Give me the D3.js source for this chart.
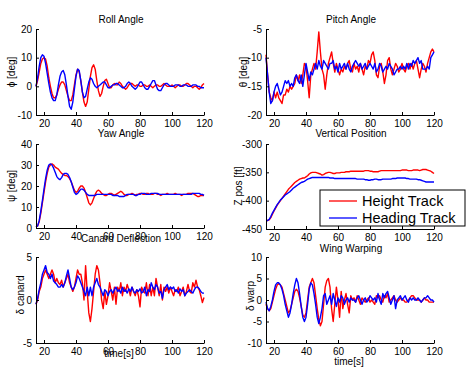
<!DOCTYPE html>
<html>
<head>
<meta charset="utf-8">
<script src="https://cdn.jsdelivr.net/npm/d3@7"></script>
<style>
  body { margin: 0; background: #fff; }
  svg text { font-family: "Liberation Sans", Arial, sans-serif; fill: #000; }
  .axis path, .axis line { stroke: #000; stroke-width: 1; }
</style>
</head>
<body>
<div id="chart"></div>
<script>
// sample times [s]
var time = [15,16,17,18,19,20,21,22,23,24,25,26,27,28,29,30,31,32,33,34,35,36,37,38,39,40,
  41,42,43,44,45,46,47,48,49,50,51,52,53,54,55,56,57,58,59,60,61,62,63,64,65,66,67,68,69,70,
  71,72,73,74,75,76,77,78,79,80,81,82,83,84,85,86,87,88,89,90,91,92,93,94,95,96,97,98,99,100,
  101,102,103,104,105,106,107,108,109,110,111,112,113,114,115,116,117,118,119,120];

var xTicks = [20, 40, 60, 80, 100, 120];

// Roll angle phi [deg]
var rollHeight = [0,2,5,8,9.5,10,9.5,7,3,0,-2.5,-4,-4,-3,-1,0.5,1.5,1.5,0.5,-1.5,-3.5,-5,-5,-3,0.5,4,
  6,5,2,-2,-5.5,-7,-5.5,-1,3.5,6.5,7.5,6,2,-1.5,-3.5,-2.5,0,2,2.5,1,-0.5,-0.5,0.5,1,0.5,0.5,1.5,1,0,-0.5,
  -1,-0.5,0.5,1,1,0.5,0,0.5,0.5,0,0,0.5,0.5,0,0,0.5,0,-0.5,0,0.5,0.5,0,0,0.5,1,0.5,0,0,0,0.5,
  0,-0.5,0,0.5,0.5,0,0,0.5,1,1,0.5,0,-0.5,0,0,-0.5,-1,-0.5,0.5,1];
var rollHeading = [0,3,7,10,11,10.5,8,4.5,1,-2,-4,-5,-5,-3,0.5,3.5,5,5.5,4,0.5,-3.5,-7,-8,-5.5,-1,3.5,
  6,5.5,2,-2,-4,-3.5,-1,1.5,3,2.5,1,0,-0.5,0,0.5,1,1.5,1.5,0.5,-0.5,-0.5,0,0.5,0.5,1,1,0.5,0,-0.5,-0.5,
  0,1,1.5,1,0,-0.5,-1,-0.5,0.5,1.5,1.5,0.5,-0.5,-1,-1,0,1,2,2,0.5,-1,-1.5,-1.5,-0.5,0.5,1,1,0.5,0,0,
  0,0.5,0.5,0.5,0,0,0.5,0.5,0.5,0,0,0,0.5,0.5,0.5,0,0,-0.5,-0.5,-0.5];

// Pitch angle theta [deg]
var pitchHeight = [-9.5,-13,-16,-17,-17.5,-16,-17,-16,-17,-17.5,-18,-16.5,-16.5,-15.5,-16,-15,-15.5,-15,-14.5,-13,-14,-13,-14.5,-13,-11,-11.5,
  -14,-17,-13,-12,-11,-12,-9,-5.5,-9,-12,-13,-15.5,-13,-11,-10,-9,-11,-12.5,-11,-12,-13,-12,-12.5,-11.5,-12,-11,-10.5,-12,-12.5,-11,
  -12,-11.5,-12.5,-11,-12,-13,-11.5,-12,-10.5,-11,-9.5,-9,-10.5,-13,-13.5,-11.5,-11,-12.5,-14.5,-13,-10.5,-10,-12,-13,-12,-11,-11.5,-12.5,-12,-11,
  -12,-12.5,-11.5,-11,-12,-11,-12,-11,-10.5,-12,-13.5,-12,-11,-11.5,-12.5,-11,-10,-9,-8.5,-9];
var pitchHeading = [-10,-13,-16,-18,-17.5,-16,-15,-14.5,-15.5,-16.5,-16,-15,-14,-14.5,-14,-15,-14.5,-15,-13.5,-13,-14,-14.5,-13,-15,-13,-11,
  -12.5,-14,-12.5,-13,-12,-11,-12,-10.5,-11.5,-12,-10.5,-11,-11.5,-12,-11,-11,-10.5,-12,-11.5,-12.5,-11,-12,-11.5,-11,-12,-11,-12,-12.5,-11.5,-11,
  -10.5,-11,-11.5,-11,-12,-11.5,-11,-12,-11.5,-11,-11.5,-12,-11,-12.5,-12,-11,-11.5,-12.5,-12,-11.5,-12,-11,-11.5,-12,-13,-12.5,-12,-12,-11.5,-12,
  -11.5,-12,-11,-12,-11,-11.5,-10.5,-11,-10.5,-10,-11,-10.5,-12,-12,-12,-11.5,-12,-10,-9.5,-9];

// Yaw angle psi [deg]
var yawHeight = [0.5,1,3,7,12,17,22,26,29,30,30.5,30,29,28.5,28,27,26,25.5,25,25,24.5,23.5,22,20,18,17,
  17.5,19,20,20,19,17,14.5,12,11,12,14,16,17.5,18,17.5,16.5,16,15.5,15.5,16,16.5,16.5,16,15.5,16,16.5,17,17.5,17,16,
  15.5,15.5,16,16,16.5,16,15.5,16,16,16.5,16.5,16,16,16.5,16.5,16,16,16,16.5,16.5,16,16,15.5,16,16,16,16.5,16,16,16,
  16,16.5,16,16,16,15.5,16,16,16,16.5,16.5,16.5,16.5,16,15.5,15,15,15.5,15.5,15.5];
var yawHeading = [0.5,1,3.5,8,13,18.5,23.5,27.5,30,30.5,30,28.5,26.5,24.5,23.5,23,24,25.5,26,26,25.5,24,22,19.5,17,16,
  16.5,17.5,18.5,18.5,18,17,16,15.5,15.5,15.5,15.5,15.5,16,16,16,16,16,16,16,16,16,16,15.5,15.5,15.5,15.5,15,15,15,15,
  15.5,16,16,16,16,16,15.5,15.5,16,16,16.5,16.5,16.5,16,16,16,16.5,16.5,16.5,16.5,16.5,16,16,16,16,16,16,16,16,16,
  16,16,16,16,16,16,16,16,16,16,16,16,16.5,16.5,16.5,16.5,16.5,16,16,15.5];

// Vertical position Z [ft]
var zHeight = [-435,-435,-434,-430,-424,-418,-413,-408,-404,-400,-396,-392,-388,-384,-380,-377,-374,-371,-368,-366,-364,-362,-361,-360,-360,-358,
  -356,-353,-351,-350,-350,-350,-351,-352,-353,-355,-354,-352,-351,-350,-350,-351,-352,-352,-351,-351,-351,-350,-350,-350,-349,-349,-349,-348,-348,-348,
  -348,-348,-348,-348,-348,-348,-347,-347,-347,-348,-348,-349,-349,-349,-349,-348,-347,-347,-347,-347,-347,-347,-347,-347,-347,-347,-347,-347,-347,-346,
  -346,-346,-346,-347,-347,-347,-346,-346,-346,-346,-347,-346,-345,-345,-345,-346,-347,-348,-350,-352];
var zHeading = [-435,-435,-433,-428,-422,-417,-412,-407,-403,-399,-396,-393,-390,-388,-386,-384,-381,-378,-376,-374,-372,-370,-368,-367,-366,-364,
  -362,-361,-360,-359,-359,-359,-359,-359,-359,-359,-359,-359,-359,-359,-360,-360,-360,-361,-361,-361,-361,-361,-361,-361,-361,-361,-361,-361,-361,-361,
  -361,-362,-362,-362,-362,-362,-363,-363,-364,-364,-363,-363,-362,-362,-363,-363,-363,-362,-362,-362,-362,-362,-362,-361,-361,-361,-360,-360,-360,-360,
  -360,-360,-361,-361,-362,-362,-362,-362,-362,-363,-363,-364,-365,-366,-367,-367,-367,-367,-367,-367];

// Canard deflection
var canardHeight = [-0.5,0,1,1.5,2.5,3,3.5,3,2.5,3,3.5,3,2,2.5,2,1.8,2.3,1.5,2,2.5,3,2,1.5,1,1.5,2.5,
  3.5,3,3,2,0,4,1,-1.5,-2.5,-1,1,3,4,3.5,2,0,-1,1,-0.5,0.5,2,1,0,1.5,-0.5,1.5,1,2,0.5,1.5,
  1,1.8,1.2,0.5,1.5,1,0.5,1.2,0.5,-0.8,1.5,1,0.8,2,0.5,1.8,0.5,1.5,0.5,2.5,1.5,0.5,1.8,0,1.5,1,1.5,0.8,1.5,1,
  0.5,1.2,1,1.5,0.5,1,1.5,0.5,1,1.8,1,0.8,2,1.5,2.3,1.5,1.2,0.5,-0.3,0.3];
var canardHeading = [-0.5,0.2,1.2,2,3,3.5,4,3.2,3,2.5,3,2.2,2,1.8,1.5,1.5,1.8,1.5,2,2.8,3.5,2.5,1.5,1.2,1.5,2,
  2.8,2.5,2,1.5,1,0.5,1.5,0.5,1.5,0.5,1.5,2,2.5,1.8,1.5,1,0.5,1.2,1,0.5,1,1.2,0.8,1.2,1.5,1,1.2,0.8,1.5,1,
  1.2,0.8,1.3,1,1.5,1,0.8,1.2,1,1.3,0.8,1,1.5,0.5,1.2,1,2,1.5,1.2,1.8,1.5,0.8,1,0.2,1.2,1.5,1.8,1.2,1.5,1.3,
  1.5,1,1.2,0.8,1.3,1,1.2,0.5,0.8,1,1.2,1,0.8,1.2,1.5,1.5,1.3,1,0.8,0.8];

// Wing warping
var warpHeight = [-1,-2,-2.5,-2,-0.5,1,2.5,3.5,3.8,3.5,3,1.5,0,-1.5,-3,-2.5,-1,0.5,2,2.5,2,0.5,-1.5,-3.5,-4,-3,
  0,3,4,5,4,1,-2,-4.5,-6,-5,-1,3,4.5,5,3,-2,-5,-1,3,0,-4,2,-2,0,1.5,-1,-3,1,0,0.5,
  -0.5,1,0,-1,0.5,0,-0.5,0,0.5,-0.5,0,-0.5,-1,1,0.5,1,0,-0.5,1,0.5,1.5,-0.5,0,0.5,1,0,-0.5,0,0.5,0,
  0,-0.5,-0.5,0,0.5,1,1,0.5,0,0,0,-0.5,0,0.5,0,0,-0.5,-0.5,-0.5,-0.5];
var warpHeading = [-0.5,-2,-2.5,-1.5,0,2,3.5,4,4,3.5,2.5,1,-1,-2.5,-4,-3,-1,1.5,3.5,5,4,1.5,-1.5,-4,-5,-4,
  -1,2.5,4,3.5,1.5,-1,-4,-5.5,-4,-2,1,1.5,-1,0,1,-1,1.5,0,-1.5,0.5,-0.5,1,0.5,-1,0,0.5,-0.5,0.5,0,0,
  -0.5,0.5,1,0,-1,0,0.5,-0.5,0,1,0.5,0,0.5,-0.5,1.5,0,-1,1.5,0.5,1.5,2,0.5,-1,0,1,-2,0,0.5,1,0,
  0.5,1,0,-0.5,0.5,0,0.5,0,0,0.5,0,-0.5,0,0.5,0.5,1,0.5,0,0,-0.5];

var seriesNames = ["Height Track", "Heading Track"];
var seriesColors = ["#ff0000", "#0000ff"];

var W = 474, H = 370;
var svg = d3.select("#chart").append("svg")
    .attr("width", W)
    .attr("height", H);

// panel layout
var colX = [[36, 204], [266, 434]];

var panels = [
  { title: "Roll Angle", ylab: "\u03d5 [deg]", col: 0, y: [29, 115], dom: [-10, 20], ticks: [-10, 0, 10, 20],
    data: [rollHeight, rollHeading], titleY: 23, ylabX: 15, ylabY: 72 },
  { title: "Pitch Angle", ylab: "\u03b8 [deg]", col: 1, y: [29, 115], dom: [-20, -5], ticks: [-20, -15, -10, -5],
    data: [pitchHeight, pitchHeading], titleY: 23, ylabX: 247, ylabY: 72 },
  { title: "Yaw Angle", ylab: "\u03c8 [deg]", col: 0, y: [144, 228], dom: [0, 40], ticks: [0, 10, 20, 30, 40],
    data: [yawHeight, yawHeading], titleY: 137, ylabX: 15, ylabY: 186 },
  { title: "Vertical Position", ylab: "Z pos [ft]", col: 1, y: [144, 229], dom: [-450, -300], ticks: [-450, -400, -350, -300],
    data: [zHeight, zHeading], titleY: 137, ylabX: 242, ylabY: 186, legend: true },
  { title: "Canard Deflection", ylab: "\u03b4 canard", col: 0, y: [257, 343], dom: [-5, 5], ticks: [-5, 0, 5],
    data: [canardHeight, canardHeading], titleY: 242, ylabX: 24, ylabY: 295, xlab: "time[s]", xlabY: 357 },
  { title: "Wing Warping", ylab: "\u03b4 warp", col: 1, y: [257, 343], dom: [-10, 10], ticks: [-10, -5, 0, 5, 10],
    data: [warpHeight, warpHeading], titleY: 252, ylabX: 254, ylabY: 296, xlab: "time[s]", xlabY: 365 }
];

panels.forEach(function(p) {
  var xr = colX[p.col];
  var x = d3.scaleLinear().domain([15, 120]).range(xr);
  var y = d3.scaleLinear().domain(p.dom).range([p.y[1], p.y[0]]);
  var g = svg.append("g");

  // data lines
  var line = d3.line()
      .x(function(d, i) { return x(time[i]); })
      .y(function(d) { return y(d); });

  p.data.forEach(function(vals, k) {
    g.append("path")
      .datum(vals)
      .attr("fill", "none")
      .attr("stroke", seriesColors[k])
      .attr("stroke-width", 1.4)
      .attr("stroke-linejoin", "round")
      .attr("d", line);
  });

  // axes (MATLAB style, inward ticks)
  g.append("g")
    .attr("class", "axis")
    .attr("transform", "translate(0," + p.y[1] + ")")
    .call(d3.axisBottom(x).tickValues(xTicks).tickSizeInner(-3).tickSizeOuter(0).tickPadding(5)
      .tickFormat(function(d) { return String(d); }))
    .call(function(s) { s.selectAll("text").attr("font-size", 10).attr("font-family", null); });

  g.append("g")
    .attr("class", "axis")
    .attr("transform", "translate(" + xr[0] + ",0)")
    .call(d3.axisLeft(y).tickValues(p.ticks).tickSizeInner(-3).tickSizeOuter(0).tickPadding(4)
      .tickFormat(function(d) { return String(d); }))
    .call(function(s) { s.selectAll("text").attr("font-size", 10).attr("font-family", null); });

  // title
  svg.append("text")
    .attr("x", (xr[0] + xr[1]) / 2 + 1)
    .attr("y", p.titleY)
    .attr("text-anchor", "middle")
    .attr("font-size", 10)
    .text(p.title);

  // y label
  svg.append("text")
    .attr("transform", "translate(" + p.ylabX + "," + p.ylabY + ") rotate(-90)")
    .attr("text-anchor", "middle")
    .attr("font-size", 10)
    .text(p.ylab);

  if (p.xlab) {
    svg.append("text")
      .attr("x", (xr[0] + xr[1]) / 2 - 1)
      .attr("y", p.xlabY)
      .attr("text-anchor", "middle")
      .attr("font-size", 10)
      .text(p.xlab);
  }

  if (p.legend) {
    var lg = svg.append("g").attr("transform", "translate(320,190)");
    lg.append("rect")
      .attr("width", 145).attr("height", 36)
      .attr("fill", "#fff").attr("stroke", "#000").attr("stroke-width", 1);
    seriesNames.forEach(function(name, k) {
      var yy = 11 + k * 17;
      lg.append("line")
        .attr("x1", 9).attr("x2", 37).attr("y1", yy).attr("y2", yy)
        .attr("stroke", seriesColors[k]).attr("stroke-width", 1.3);
      lg.append("text")
        .attr("x", 42).attr("y", yy + 5)
        .attr("font-size", 14.5)
        .text(name);
    });
  }
});
</script>
